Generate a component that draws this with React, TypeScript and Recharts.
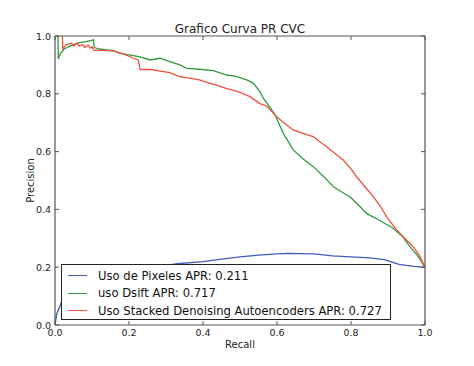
import React from 'react';
import { LineChart, Line, XAxis, YAxis, Legend } from 'recharts';

const ticks = [0, 0.2, 0.4, 0.6, 0.8, 1.0];

const pixelesSeries: [number, number][] = [
  [0, 0], [0.005, 0.04], [0.0135, 0.065], [0.02, 0.09], [0.04, 0.12], [0.08, 0.15],
  [0.15, 0.175], [0.25, 0.195], [0.33, 0.212], [0.4, 0.219], [0.45, 0.228], [0.5, 0.236],
  [0.55, 0.242], [0.6, 0.246], [0.63, 0.248], [0.7, 0.246], [0.75, 0.239], [0.8, 0.236],
  [0.85, 0.232], [0.89, 0.226], [0.93, 0.21], [0.95, 0.206], [0.97, 0.203], [1.0, 0.2],
];

const dsiftSeries: [number, number][] = [
  [0, 1.0], [0.008, 1.0], [0.009, 0.92], [0.015, 0.94], [0.025, 0.955], [0.04, 0.965],
  [0.06, 0.975], [0.08, 0.98], [0.1, 0.985], [0.104, 0.988], [0.106, 0.96], [0.12, 0.955],
  [0.14, 0.952], [0.157, 0.95], [0.176, 0.94], [0.2, 0.935], [0.23, 0.928], [0.257, 0.917],
  [0.284, 0.923], [0.31, 0.911], [0.338, 0.9], [0.356, 0.888], [0.39, 0.885], [0.428, 0.88],
  [0.464, 0.865], [0.49, 0.86], [0.518, 0.848], [0.536, 0.837], [0.554, 0.807], [0.563, 0.785],
  [0.58, 0.755], [0.595, 0.727], [0.617, 0.663], [0.644, 0.606], [0.67, 0.575], [0.698, 0.548],
  [0.725, 0.515], [0.752, 0.479], [0.775, 0.46], [0.797, 0.444], [0.82, 0.415], [0.842, 0.386],
  [0.88, 0.36], [0.914, 0.335], [0.94, 0.305], [0.959, 0.271], [0.98, 0.24], [1.0, 0.2],
];

const sdaeSeries: [number, number][] = [
  [0.02, 1.0], [0.021, 0.955], [0.03, 0.97], [0.045, 0.975], [0.05, 0.965], [0.06, 0.975],
  [0.065, 0.965], [0.075, 0.97], [0.08, 0.96], [0.09, 0.968], [0.095, 0.958], [0.1, 0.963],
  [0.105, 0.95], [0.13, 0.95], [0.16, 0.948], [0.18, 0.94], [0.2, 0.93], [0.212, 0.923],
  [0.225, 0.917], [0.23, 0.884], [0.26, 0.884], [0.28, 0.879], [0.31, 0.873], [0.338, 0.859],
  [0.36, 0.855], [0.39, 0.848], [0.415, 0.838], [0.437, 0.83], [0.46, 0.82], [0.48, 0.813],
  [0.5, 0.805], [0.527, 0.79], [0.554, 0.766], [0.572, 0.757], [0.599, 0.721], [0.62, 0.698],
  [0.644, 0.675], [0.67, 0.663], [0.698, 0.652], [0.715, 0.635], [0.734, 0.617], [0.755, 0.595],
  [0.779, 0.571], [0.8, 0.54], [0.815, 0.513], [0.84, 0.475], [0.86, 0.444], [0.88, 0.41],
  [0.896, 0.375], [0.923, 0.329], [0.945, 0.3], [0.968, 0.271], [0.985, 0.24], [1.0, 0.2],
];

const seriesNames = [
  'Uso de Pixeles APR: 0.211',
  'uso Dsift APR: 0.717',
  'Uso Stacked Denoising Autoencoders APR: 0.727',
];
const seriesColors = ['#3f5cbf', '#2e9b40', '#f0503c'];

const toPoints = (s: [number, number][]) => s.map(([r, p]) => ({ r, p }));

const FONT = 'DejaVu Sans, sans-serif';
const FRAME = '#555';

const BottomTick = (props: any) => {
  const { x, y, payload } = props;
  return (
    <g>
      <line x1={x} y1={y} x2={x} y2={y - 4} stroke={FRAME} strokeWidth={1} />
      <text x={x} y={y + 11} textAnchor="middle" fontSize={9.5} fontFamily={FONT} fill="#222">
        {Number(payload.value).toFixed(1)}
      </text>
    </g>
  );
};
const TopTick = (props: any) => {
  const { x, y } = props;
  return <line x1={x} y1={y} x2={x} y2={y + 4} stroke={FRAME} strokeWidth={1} />;
};
const LeftTick = (props: any) => {
  const { x, y, payload } = props;
  return (
    <g>
      <line x1={x} y1={y} x2={x + 4} y2={y} stroke={FRAME} strokeWidth={1} />
      <text x={x - 4} y={y + 3.5} textAnchor="end" fontSize={9.5} fontFamily={FONT} fill="#222">
        {Number(payload.value).toFixed(1)}
      </text>
    </g>
  );
};
const RightTick = (props: any) => {
  const { x, y } = props;
  return <line x1={x} y1={y} x2={x - 4} y2={y} stroke={FRAME} strokeWidth={1} />;
};

const LegendBox = () => (
  <div
    style={{
      width: 330,
      height: 56,
      boxSizing: 'border-box',
      border: '1.2px solid #222',
      background: '#fff',
      fontFamily: FONT,
      fontSize: 11.6,
      color: '#111',
      position: 'relative',
    }}
  >
    {seriesNames.map((n, i) => (
      <div
        key={n}
        style={{
          position: 'absolute',
          left: 6,
          top: 2 + i * 17.5,
          height: 17,
          display: 'flex',
          alignItems: 'center',
          whiteSpace: 'nowrap',
        }}
      >
        <span style={{ display: 'inline-block', width: 19, height: 0, borderTop: `1.3px solid ${seriesColors[i]}`, marginRight: 11 }} />
        <span>{n}</span>
      </div>
    ))}
  </div>
);

export default function App() {
  return (
    <div style={{ position: 'absolute', left: 0, top: 0, width: 474, height: 366, background: '#fff' }}>
      <div
        style={{
          position: 'absolute',
          left: 55,
          width: 370,
          top: 21,
          textAlign: 'center',
          fontFamily: FONT,
          fontSize: 12,
          color: '#222',
          lineHeight: '16px',
        }}
      >
        Grafico Curva PR CVC
      </div>
      <LineChart width={474} height={366} margin={{ top: 35, right: 48, bottom: 11, left: 15 }}>
        <XAxis
          xAxisId="bottom"
          type="number"
          dataKey="r"
          domain={[0, 1]}
          ticks={ticks}
          orientation="bottom"
          height={30}
          tickSize={0}
          tickMargin={0}
          tickLine={false}
          tick={<BottomTick />}
          axisLine={{ stroke: FRAME, strokeWidth: 1.2 }}
          allowDataOverflow
          label={{
            content: (p: any) => {
              const vb = p.viewBox;
              return (
                <text x={vb.x + vb.width / 2} y={vb.y + 22.5} textAnchor="middle" fontSize={10} fontFamily={FONT} fill="#222">
                  Recall
                </text>
              );
            },
          }}
        />
        <XAxis
          xAxisId="top"
          type="number"
          dataKey="r"
          domain={[0, 1]}
          ticks={ticks}
          orientation="top"
          height={1}
          tickSize={0}
          tickMargin={0}
          tickLine={false}
          tick={<TopTick />}
          axisLine={{ stroke: FRAME, strokeWidth: 1.2 }}
          allowDataOverflow
        />
        <YAxis
          yAxisId="left"
          type="number"
          dataKey="p"
          domain={[0, 1]}
          ticks={ticks}
          orientation="left"
          width={40}
          tickSize={0}
          tickMargin={0}
          tickLine={false}
          tick={<LeftTick />}
          axisLine={{ stroke: FRAME, strokeWidth: 1.2 }}
          allowDataOverflow
          label={{
            content: (p: any) => {
              const vb = p.viewBox;
              const cx = vb.x + 15;
              const cy = vb.y + vb.height / 2;
              return (
                <text x={cx} y={cy} transform={`rotate(-90 ${cx} ${cy})`} textAnchor="middle" dominantBaseline="central" fontSize={10} fontFamily={FONT} fill="#222">
                  Precision
                </text>
              );
            },
          }}
        />
        <YAxis
          yAxisId="right"
          type="number"
          dataKey="p"
          domain={[0, 1]}
          ticks={ticks}
          orientation="right"
          width={1}
          tickSize={0}
          tickMargin={0}
          tickLine={false}
          tick={<RightTick />}
          axisLine={{ stroke: FRAME, strokeWidth: 1.2 }}
          allowDataOverflow
        />
        {[pixelesSeries, dsiftSeries, sdaeSeries].map((s, i) => (
          <Line
            key={seriesNames[i]}
            xAxisId="bottom"
            yAxisId="left"
            data={toPoints(s)}
            dataKey="p"
            name={seriesNames[i]}
            type="linear"
            stroke={seriesColors[i]}
            strokeWidth={1.3}
            dot={false}
            activeDot={false}
            isAnimationActive={false}
          />
        ))}
        <Legend
          layout="vertical"
          align="center"
          verticalAlign="middle"
          content={() => <LegendBox />}
          wrapperStyle={{ position: 'absolute', left: 61, top: 264, width: 330, height: 56 }}
        />
      </LineChart>
    </div>
  );
}
